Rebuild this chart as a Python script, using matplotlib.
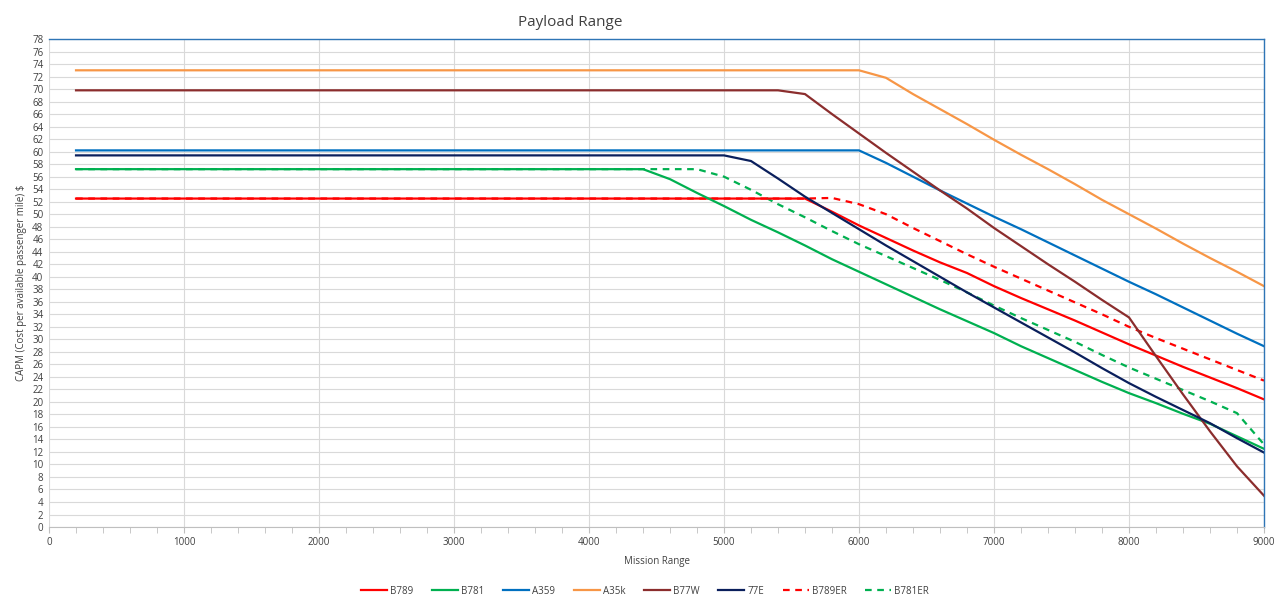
import matplotlib.pyplot as plt
from matplotlib.ticker import MultipleLocator

# Payload range curves, CAPM vs mission range (nm)
b789_x = [200, 5600, 5800, 6000, 6200, 6400, 6600, 6800, 7000, 7200, 7400, 7600, 7800, 8000, 8200, 8400, 8600, 8800, 9000]
b789_y = [52.5, 52.5, 50.4, 48.2, 46.2, 44.2, 42.3, 40.6, 38.5, 36.6, 34.8, 33.0, 31.1, 29.2, 27.4, 25.6, 23.9, 22.2, 20.4]

b781_x = [200, 4400, 4600, 4800, 5000, 5200, 5400, 5600, 5800, 6000, 6200, 6400, 6600, 6800, 7000, 7200, 7400, 7600, 7800, 8000, 8200, 8400, 8600, 8800, 9000]
b781_y = [57.2, 57.2, 55.6, 53.4, 51.3, 49.1, 47.1, 45.0, 42.8, 40.8, 38.8, 36.8, 34.8, 32.9, 31.0, 28.9, 27.0, 25.1, 23.2, 21.4, 19.8, 18.1, 16.5, 14.5, 12.5]

a359_x = [200, 6000, 6200, 6400, 6600, 6800, 7000, 7200, 7400, 7600, 7800, 8000, 8200, 8400, 8600, 8800, 9000]
a359_y = [60.2, 60.2, 58.2, 56.0, 53.8, 51.7, 49.6, 47.6, 45.5, 43.4, 41.3, 39.2, 37.2, 35.1, 33.0, 30.9, 28.9]

a35k_x = [200, 6000, 6200, 6400, 6600, 6800, 7000, 7200, 7400, 7600, 7800, 8000, 8200, 8400, 8600, 8800, 9000]
a35k_y = [73.0, 73.0, 71.8, 69.2, 66.8, 64.4, 61.9, 59.5, 57.2, 54.8, 52.3, 50.0, 47.7, 45.3, 43.0, 40.8, 38.5]

b77w_x = [200, 5400, 5600, 5800, 6000, 6200, 6400, 6600, 6800, 7000, 7200, 7400, 7600, 7800, 8000, 8200, 8400, 8600, 8800, 9000]
b77w_y = [69.8, 69.8, 69.2, 66.0, 62.9, 59.8, 56.8, 53.8, 50.9, 47.8, 44.9, 42.0, 39.2, 36.3, 33.5, 27.3, 21.2, 15.3, 9.7, 5.0]

e77_x = [200, 5000, 5200, 5400, 5600, 5800, 6000, 6200, 6400, 6600, 6800, 7000, 7200, 7400, 7600, 7800, 8000, 8200, 8400, 8600, 8800, 9000]
e77_y = [59.4, 59.4, 58.5, 55.7, 52.8, 50.2, 47.6, 45.0, 42.5, 40.0, 37.5, 35.1, 32.7, 30.3, 27.9, 25.4, 23.0, 20.8, 18.7, 16.6, 14.2, 11.9]

b789er_x = [200, 5600, 5800, 6000, 6200, 6400, 6600, 6800, 7000, 7200, 7400, 7600, 7800, 8000, 8200, 8400, 8600, 8800, 9000]
b789er_y = [52.5, 52.5, 52.6, 51.6, 50.0, 47.8, 45.7, 43.6, 41.6, 39.7, 37.8, 35.9, 34.0, 32.0, 30.2, 28.5, 26.8, 25.1, 23.4]

b781er_x = [200, 4600, 4800, 5000, 5200, 5400, 5600, 5800, 6000, 6200, 6400, 6600, 6800, 7000, 7200, 7400, 7600, 7800, 8000, 8200, 8400, 8600, 8800, 9000]
b781er_y = [57.2, 57.2, 57.2, 56.0, 53.9, 51.6, 49.5, 47.3, 45.2, 43.3, 41.4, 39.5, 37.5, 35.4, 33.4, 31.5, 29.6, 27.5, 25.5, 23.7, 21.9, 20.1, 18.2, 13.2]

series = [
    ("B789", b789_x, b789_y, "#ff0000", "-"),
    ("B781", b781_x, b781_y, "#00b050", "-"),
    ("A359", a359_x, a359_y, "#0070c0", "-"),
    ("A35k", a35k_x, a35k_y, "#f79646", "-"),
    ("B77W", b77w_x, b77w_y, "#8b2d2d", "-"),
    ("77E", e77_x, e77_y, "#0a1f5c", "-"),
    ("B789ER", b789er_x, b789er_y, "#ff0000", (0, (3, 2.5))),
    ("B781ER", b781er_x, b781er_y, "#00b050", (0, (3, 2.5))),
]

plt.rcParams["font.family"] = ["Open Sans", "DejaVu Sans"]

fig = plt.figure(figsize=(12.8, 6.05), dpi=100)
ax = fig.add_axes([0.0383, 0.1289, 0.9492, 0.8066])

for name, xs, ys, col, ls in series:
    # dashed ER variants sit under the solid ones where they overlap
    z = 2 if ls == "-" else 1.9
    ax.plot(xs, ys, color=col, linestyle=ls, linewidth=1.6, label=name, zorder=z)

ax.set_xlim(0, 9000)
ax.set_ylim(0, 78)
ax.xaxis.set_major_locator(MultipleLocator(1000))
ax.xaxis.set_minor_locator(MultipleLocator(200))
ax.yaxis.set_major_locator(MultipleLocator(2))
ax.grid(True, which="major", color="#d9d9d9", linewidth=0.8)
ax.set_axisbelow(True)

ax.tick_params(axis="y", length=0, labelsize=7, colors="#404040", pad=4)
ax.tick_params(axis="x", which="major", length=4, labelsize=7, colors="#404040", pad=3)
ax.tick_params(axis="x", which="minor", length=4, color="#bfbfbf")
ax.tick_params(axis="x", which="major", color="#bfbfbf")

ax.spines["left"].set_visible(False)
ax.spines["bottom"].set_color("#bfbfbf")
for s in ("top", "right"):
    ax.spines[s].set_color("#2e75b6")
    ax.spines[s].set_linewidth(1.0)

fig.text(570 / 1280, 1 - 22 / 605, "Payload Range", ha="center", va="center", fontsize=11, color="#404040")
ax.set_xlabel("Mission Range", fontsize=7, color="#404040", labelpad=6)
ax.set_ylabel("CAPM (Cost per available passenger mile) $", fontsize=7, color="#404040", labelpad=4)

fig.legend(loc="center", bbox_to_anchor=(645 / 1280, 1 - 591 / 605), ncol=8, frameon=False,
           fontsize=7, handlelength=2.7, columnspacing=1.9, handletextpad=0.3,
           labelcolor="#404040")

fig.savefig("out.png", dpi=100)
